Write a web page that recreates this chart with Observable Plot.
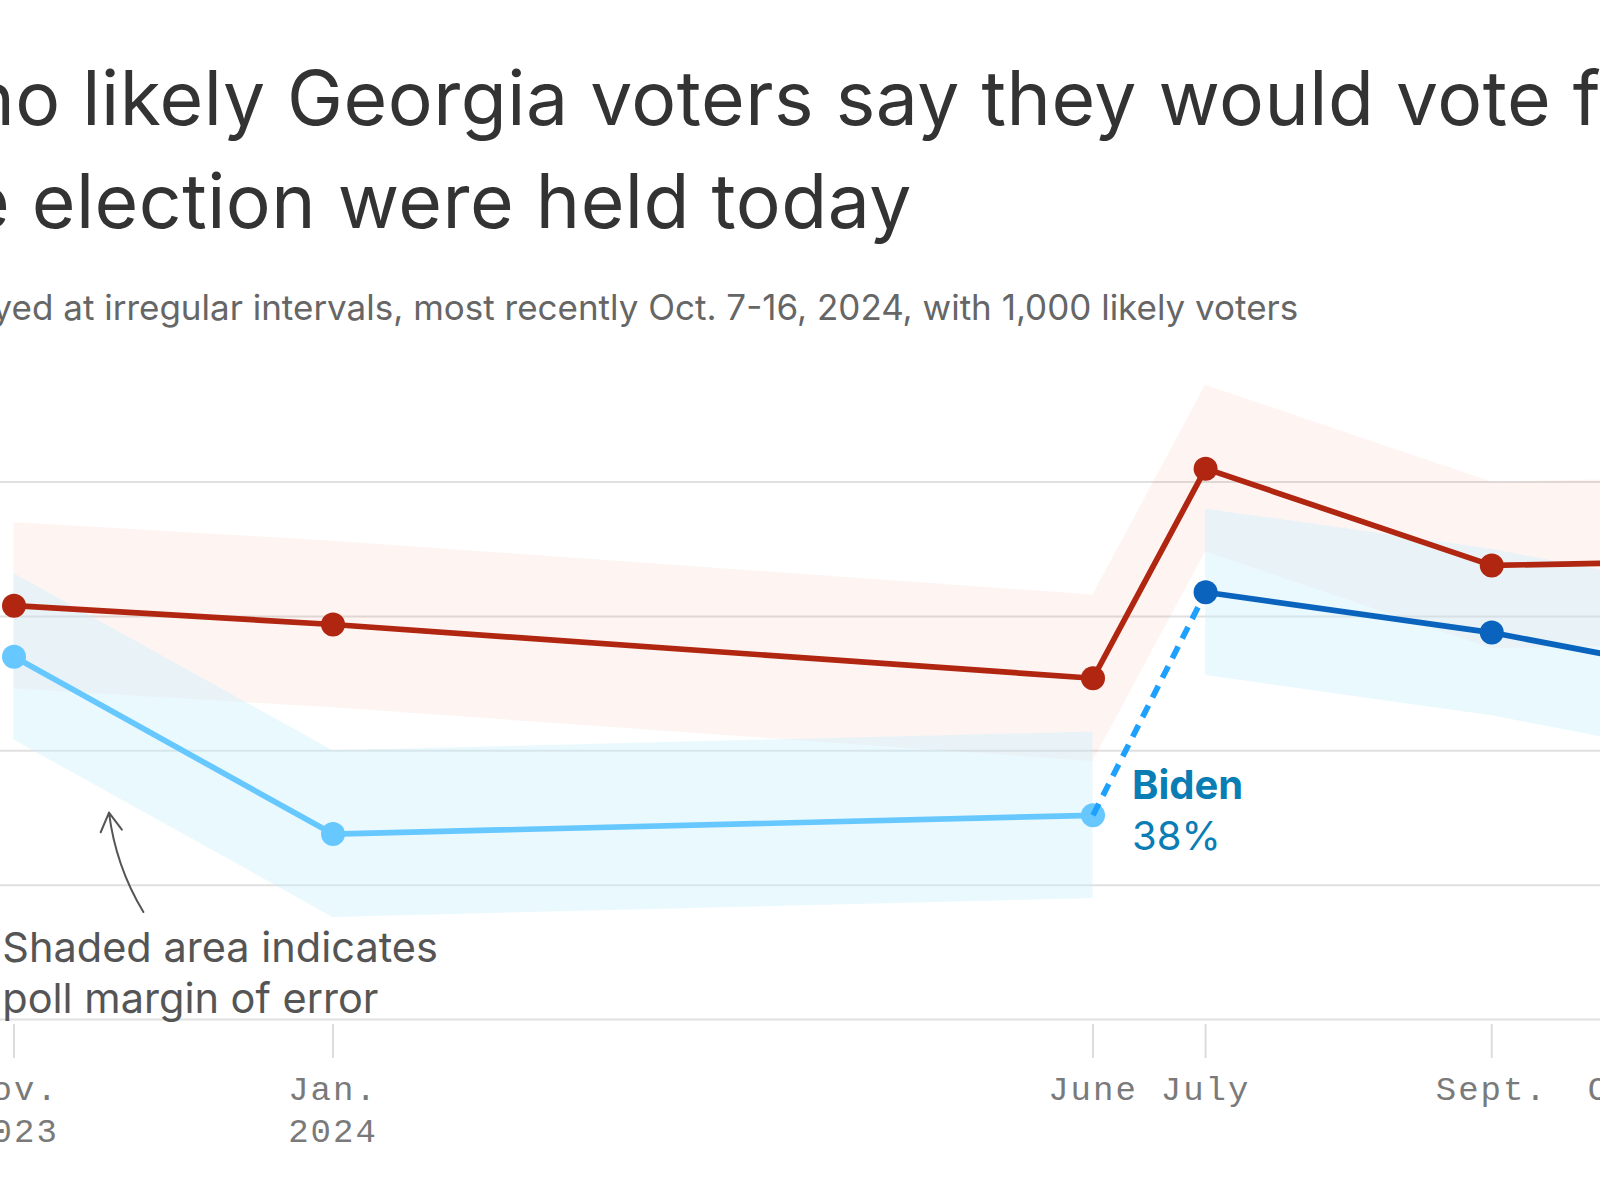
<!DOCTYPE html>
<html>
<head>
<meta charset="utf-8">
<script src="https://cdn.jsdelivr.net/npm/d3@7"></script>
<script src="https://cdn.jsdelivr.net/npm/@observablehq/plot@0.6"></script>
<style>
  html, body { margin: 0; padding: 0; background: #fff; }
  body { width: 1600px; height: 1200px; overflow: hidden; position: relative; font-family: Inter, "Noto Sans", sans-serif; }
  #header { position: relative; height: 340px; }
  #title { position: absolute; left: -104px; top: 46px; margin: 0; font-size: 75px; line-height: 103px; font-weight: 400; color: #333; white-space: nowrap; letter-spacing: 0.5px; }
  #subtitle { position: absolute; left: -103px; top: 289px; margin: 0; font-size: 35px; line-height: 36px; color: #666; white-space: nowrap; }
  #chart svg { display: block; }
  #chart g[aria-label="x-axis tick label"] { letter-spacing: 2px; }
</style>
</head>
<body>
<div id="header">
  <h1 id="title">Who likely Georgia voters say they would vote for if<br>the election were held today</h1>
  <p id="subtitle">Surveyed at irregular intervals, most recently Oct. 7-16, 2024, with 1,000 likely voters</p>
</div>
<div id="chart"></div>
<script>
// ---- data ----
const pollDates = ["2023-11-01", "2024-01-08", "2024-06-18", "2024-07-12", "2024-09-11", "2024-10-11"];
const tickLabels = ["Nov.\n2023", "Jan.\n2024", "June", "July", "Sept.", "Oct."];
const trump  = [45.4, 44.7, 42.7, 50.5, 46.9, 47.0];
const biden  = [43.5, 36.9, 37.6, null, null, null];
const harris = [null, null, null, 45.9, 44.4, 43.4];
const marginOfError = 3.1;
const gridValues = [30, 35, 40, 45, 50];
const noteText = ["Shaded area indicates\npoll margin of error"];
const notePosition = [{date: "2023-10-29T12:00Z", value: 33.5}];
const noteArrow = [{x1: "2023-11-28T14:00Z", y1: 34.0, x2: "2023-11-21T06:00Z", y2: 37.7}];

// ---- build tables ----
const parse = (s) => new Date(s.length === 10 ? s + "T00:00Z" : s);
const dates = pollDates.map(parse);
const rows = (vals) => vals.map((v, i) => ({date: dates[i], v})).filter(d => d.v != null);
const trumpRows = rows(trump);
const bidenRows = rows(biden);
const harrisRows = rows(harris);
const bidenLast = bidenRows[bidenRows.length - 1];
const harrisFirst = harrisRows[0];
const labelOf = new Map(dates.map((d, i) => [+d, tickLabels[i]]));
const note = notePosition.map((d, i) => ({date: parse(d.date), value: d.value, text: noteText[i]}));
const arrows = noteArrow.map(d => ({x1: parse(d.x1), y1: d.y1, x2: parse(d.x2), y2: d.y2}));

const RED = "#b02610", LIGHTBLUE = "#66c8ff", BLUE = "#0a64be", DASH = "#1ea0ff", LABEL = "#0a7db4";
const LW = 5.7;

const chart = Plot.plot({
  width: 1600,
  height: 860,
  marginLeft: 0, marginRight: 0, marginTop: 0, marginBottom: 176,
  style: {fontFamily: "Inter, 'Noto Sans', sans-serif", background: "transparent"},
  x: {type: "utc", domain: [dates[0], dates[dates.length - 1]], range: [13.5, 1632]},
  y: {domain: [30, 55], range: [679, 7.25], axis: null},
  marks: [
    Plot.ruleY(gridValues, {stroke: "#e0e0e0", strokeWidth: 2}),
    Plot.areaY(trumpRows, {x: "date", y1: d => d.v - marginOfError, y2: d => d.v + marginOfError, fill: "#f0502d", fillOpacity: 0.06}),
    Plot.areaY(bidenRows, {x: "date", y1: d => d.v - marginOfError, y2: d => d.v + marginOfError, fill: "#cbf0fc", fillOpacity: 0.4}),
    Plot.areaY(harrisRows, {x: "date", y1: d => d.v - marginOfError, y2: d => d.v + marginOfError, fill: "#cbf0fc", fillOpacity: 0.4}),
    Plot.axisX({ticks: dates, tickSize: 34, tickFormat: () => "", color: "#dcdcdc", strokeWidth: 2}),
    Plot.axisX({ticks: dates, tickSize: 0, tickPadding: 46, tickFormat: d => labelOf.get(+d),
      fontSize: 34, fontFamily: "'Liberation Mono', 'DejaVu Sans Mono', monospace", color: "#7a7a7a", lineHeight: 1.23}),
    Plot.line(trumpRows, {x: "date", y: "v", stroke: RED, strokeWidth: LW}),
    Plot.line(bidenRows, {x: "date", y: "v", stroke: LIGHTBLUE, strokeWidth: LW}),
    Plot.line(harrisRows, {x: "date", y: "v", stroke: BLUE, strokeWidth: LW}),
    Plot.dot(trumpRows, {x: "date", y: "v", r: 12, fill: RED}),
    Plot.dot(bidenRows, {x: "date", y: "v", r: 12, fill: LIGHTBLUE}),
    Plot.link([{x1: bidenLast.date, y1: bidenLast.v, x2: harrisFirst.date, y2: harrisFirst.v}],
      {x1: "x1", y1: "y1", x2: "x2", y2: "y2", stroke: DASH, strokeWidth: LW, strokeDasharray: "13,9"}),
    Plot.dot(harrisRows, {x: "date", y: "v", r: 12, fill: BLUE}),
    Plot.text([bidenLast], {x: "date", y: "v", text: () => "Biden", dx: 39, dy: -29, textAnchor: "start",
      fontSize: 40, fontWeight: 700, fill: LABEL}),
    Plot.text([bidenLast], {x: "date", y: "v", text: d => `${Math.round(d.v)}%`, dx: 39, dy: 22, textAnchor: "start",
      fontSize: 40, fontWeight: 400, fill: LABEL}),
    Plot.text(note, {x: "date", y: "value", text: "text", textAnchor: "start", lineAnchor: "top",
      fontSize: 41.5, lineHeight: 1.24, fill: "#555"}),
    Plot.arrow(arrows, {x1: "x1", y1: "y1", x2: "x2", y2: "y2", bend: 12, stroke: "#555", strokeWidth: 2, headLength: 16})
  ]
});
document.getElementById("chart").appendChild(chart);
</script>
</body>
</html>
